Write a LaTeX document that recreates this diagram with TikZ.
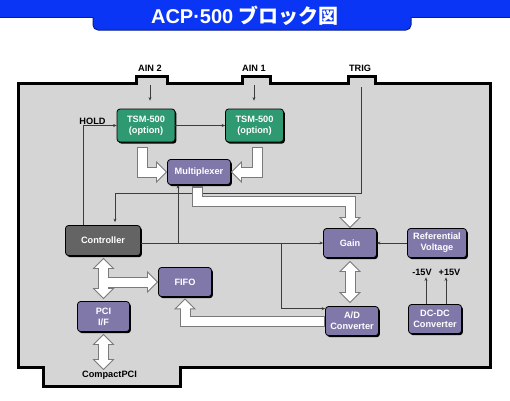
\documentclass[tikz,border=0pt]{standalone}
\usepackage{fontspec}
\setmainfont{Liberation Sans}
\newfontfamily\cjk{Noto Sans CJK JP}
\usetikzlibrary{arrows.meta, calc, shadows}
\definecolor{AcpTitleBlue}{HTML}{0A35F5}
\definecolor{AcpTitleEdge}{HTML}{0A1F8C}
\definecolor{AcpBoard}{HTML}{D5D5D5}
\definecolor{AcpGreen}{HTML}{2F9A72}
\definecolor{AcpPurple}{HTML}{8178AA}
\definecolor{AcpDark}{HTML}{646464}
\definecolor{AcpLine}{HTML}{3C3C3C}
\definecolor{AcpBusEdge}{HTML}{7A7A7A}
\newcommand{\blockfont}{\fontsize{9.2}{11}\selectfont\bfseries}
\newcommand{\labelfont}{\fontsize{9.2}{11}\selectfont\bfseries}
\newcommand{\titlefont}{\fontsize{20}{22}\selectfont\bfseries}
% hollow bus arrow: grey body, then white inside
\newcommand{\fatarrow}[3][]{%
  \draw[fatout, #2] #3;
  \draw[fatin, #2, #1] #3;}
\tikzset{
  block/.style={draw=black, line width=0.8pt, rounded corners=3pt, text=white, align=center,
    font=\blockfont, inner sep=1pt,
    drop shadow={shadow xshift=1.4pt, shadow yshift=-1.6pt, fill=black, opacity=1}},
  optblock/.style={block, fill=AcpGreen},
  modblock/.style={block, fill=AcpPurple},
  lbl/.style={font=\labelfont, inner sep=1pt},
  sig/.style={draw=AcpLine, line width=0.6pt, -{Stealth[length=3.5pt, width=3pt]}},
  fatout/.style={draw=AcpBusEdge, line width=11pt, >={Triangle[line width=0pt, width=22pt, length=11pt]}},
  fatin/.style={draw=white, line width=9pt, >={Triangle[line width=0pt, width=17.2pt, length=8.6pt]},
    shorten >=1.41pt, shorten <=1.41pt},
}

\begin{document}
\begin{tikzpicture}[x=1pt, y=-1pt]

    \useasboundingbox (0,0) rectangle (510,400);
    \fill[white] (0,0) rectangle (510,400);

    % Title bar
    \fill[AcpTitleBlue] (0,0) rectangle (510,17);
    \fill[AcpTitleBlue, rounded corners=5pt] (93,-5) rectangle (411,30);
    \draw[AcpTitleEdge, line width=1pt] (0,17) -- (93,17);
    \draw[AcpTitleEdge, line width=1pt] (411,17) -- (510,17);
    \draw[AcpTitleEdge, line width=1pt, rounded corners=5pt] (93,17) -- (93,30) -- (411,30) -- (411,17);
    \node[font=\titlefont, text=white] (title) at (245,16) {ACP·500 {\cjk ブロック図}};

    % Board
    \draw[line width=3pt, fill=AcpBoard, line join=miter]
        (18,83.5) -- (136.5,83.5) -- (136.5,76.5) -- (167,76.5) -- (167,83.5)
        -- (242,83.5) -- (242,76.5) -- (270,76.5) -- (270,83.5)
        -- (348,83.5) -- (348,76.5) -- (375,76.5) -- (375,83.5)
        -- (490,83.5) -- (490,367) -- (180,367) -- (180,386.5) -- (43,386.5) -- (43,367)
        -- (18,367) -- cycle;

    % Connector labels
    \node[lbl] (ain2) at (150,68) {AIN 2};
    \node[lbl] (ain1) at (254,68) {AIN 1};
    \node[lbl] (trig) at (360,68) {TRIG};
    \node[lbl, anchor=south] (hold) at (92.5,126) {HOLD};
    \node[lbl] (cpci) at (109.5,375.5) {CompactPCI};
    \node[lbl] (m15) at (422,272) {-15V};
    \node[lbl] (p15) at (449.5,272) {+15V};

    % Blocks
    \node[optblock, minimum width=58pt, minimum height=33pt] (tsmL) at (146,125.5) {TSM-500\\(option)};
    \node[optblock, minimum width=58pt, minimum height=33pt] (tsmR) at (254.5,125.5) {TSM-500\\(option)};
    \node[modblock, minimum width=63pt, minimum height=25pt] (mux) at (199,172) {Multiplexer};
    \node[block, fill=AcpDark, minimum width=75pt, minimum height=30pt] (ctrl) at (103,240.5) {Controller};
    \node[modblock, minimum width=53pt, minimum height=29pt] (fifo) at (185,282) {FIFO};
    \node[modblock, minimum width=52pt, minimum height=30pt] (pci) at (103.5,316.5) {PCI\\I/F};
    \node[modblock, minimum width=53pt, minimum height=29pt] (gain) at (350,243) {Gain};
    \node[modblock, minimum width=59pt, minimum height=29pt] (ref) at (437,243) {Referential\\Voltage};
    \node[modblock, minimum width=53pt, minimum height=29pt] (ad) at (352,321) {A/D\\Converter};
    \node[modblock, minimum width=53pt, minimum height=29pt] (dcdc) at (435,319) {DC-DC\\Converter};

    % Signal lines
    \draw[sig, shorten <=13pt, shorten >=8pt] (ain2.south) -- (ain2.south |- tsmL.north);
    \draw[sig, shorten <=13pt, shorten >=8pt] (ain1.south) -- (ain1.south |- tsmR.north);
    \draw[sig] (tsmL.east) -- (tsmR.west);
    \coordinate (holdc) at (83.5,125.5);
    \draw[sig] (ctrl.north -| holdc) -- (holdc) -- (tsmL.west);
    \coordinate (trigc) at (361.5,193);
    \draw[sig, shorten <=15pt, shorten >=3pt] (trig.south -| trigc) -- (trigc) -| ($(ctrl.north)+(12,0)$);
    \draw[sig] (ctrl.east |- gain.west) -- (gain.west);
    \draw[sig] ($(mux.south |- gain.west)+(-21,0)$) -- ($(mux.south)+(-21,0)$);
    \draw[sig] ($(ad.west |- gain.west)+(-44,0)$) |- ($(ad.north west)+(0,2.5)$);
    \draw[sig] (ref.west) -- (gain.east);
    \coordinate (m15x) at ($(dcdc.north)+(-9,0)$);
    \coordinate (p15x) at ($(dcdc.north)+(11,0)$);
    \draw[sig, shorten >=1pt] (m15x) -- (m15x |- m15.south);
    \draw[sig, shorten >=1pt] (p15x) -- (p15x |- p15.south);

    % Bus arrows
    \fatarrow[shorten <=1pt]{->}{($(tsmL.south)+(-4,5)$) |- (mux.west)}
    \fatarrow[shorten <=1pt]{->}{($(tsmR.south)+(2.5,5)$) |- (mux.east)}
    \fatarrow{->}{($(mux.south)+(-2,1.5)$) -- ++(0,15.5) -| (gain.north)}
    \fatarrow{<->}{($(ctrl.south -| pci.north)+(0,2)$) -- ($(pci.north)+(0,-2)$)}
    \fatarrow[shorten <=0pt]{->}{($(pci.north |- fifo.west)+(4.4,0)$) -- (fifo.west)}
    \fatarrow{<->}{($(pci.south)+(0,2)$) -- (pci.south |- cpci.north)}
    \fatarrow{->}{(ad.west) -| ($(fifo.south)+(0,1.5)$)}
    \fatarrow{<->}{($(gain.south)+(0,3)$) -- ($(gain.south |- ad.north)+(0,-3)$)}

\end{tikzpicture}
\end{document}
